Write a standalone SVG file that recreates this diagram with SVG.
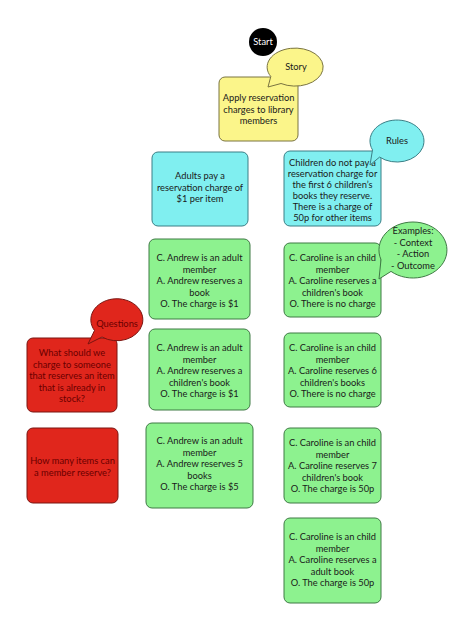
<svg xmlns="http://www.w3.org/2000/svg" width="474" height="620" viewBox="0 0 474 620">
<style>
text{font-family:Lato,"Liberation Sans",sans-serif;font-size:9.3px;text-anchor:middle;fill:#1a1a1a}
.box{stroke:#444;stroke-width:1}
.y{fill:#fbf58a;stroke:#7a7440}
.b{fill:#80eff0;stroke:#3a7f86}
.g{fill:#8df28f;stroke:#3f7a45}
.r{fill:#e0261c;stroke:#7a1410}
.rt{fill:#6a0000}
</style>
<rect width="474" height="620" fill="#fff"/>
<g id="connectors"/>
<g id="start"><circle cx="263" cy="42" r="14" fill="#000"/><text x="263" y="45" style="fill:#fff">Start</text></g>
<g id="story-box"><rect class="box y" x="219" y="77" width="79" height="64" rx="6"/>
<text x="258.5" y="101">Apply reservation</text><text x="258.5" y="112.5">charges to library</text><text x="258.5" y="124">members</text></g>
<g id="story-bubble"><path class="y" d="M281 83.5 L268 87 L270.8 76.5 A28 19 0 1 1 281 83.5 Z"/><text x="296" y="70">Story</text></g>
<g id="rule-adult"><rect class="box b" x="152" y="152" width="96" height="74" rx="6"/>
<text x="200" y="179">Adults pay a</text><text x="200" y="190.5">reservation charge of</text><text x="200" y="202">$1 per item</text></g>
<g id="rule-child"><rect class="box b" x="284" y="151" width="97" height="75" rx="6"/>
<text x="332.5" y="166">Children do not pay a</text><text x="332.5" y="177">reservation charge for</text><text x="332.5" y="188">the first 6 children’s</text><text x="332.5" y="199">books they reserve.</text><text x="332.5" y="210">There is a charge of</text><text x="332.5" y="221">50p for other items</text></g>
<g id="rules-bubble"><path class="b" d="M379.6 157.1 L370 165 L372.5 149.9 A27 21 0 1 1 379.6 157.1 Z"/><text x="397" y="144">Rules</text></g>
<g id="ex-a1"><rect class="box g" x="149" y="239" width="101" height="80" rx="6"/>
<text x="199.5" y="261">C. Andrew is an adult</text><text x="199.5" y="272.5">member</text><text x="199.5" y="284">A. Andrew reserves a</text><text x="199.5" y="295.5">book</text><text x="199.5" y="307">O. The charge is $1</text></g>
<g id="ex-c1"><rect class="box g" x="284" y="243" width="97" height="74" rx="6"/>
<text x="332.5" y="261">C. Caroline is an child</text><text x="332.5" y="272.5">member</text><text x="332.5" y="284">A. Caroline reserves a</text><text x="332.5" y="295.5">children's book</text><text x="332.5" y="307">O. There is no charge</text></g>
<g id="examples-bubble"><path class="g" d="M391 271.4 L379 279 L381 259.6 A34 28 0 1 1 391 271.4 Z"/>
<text x="413" y="234">Examples:</text><text x="413" y="245.5">- Context</text><text x="413" y="257">- Action</text><text x="413" y="268.5">- Outcome</text></g>
<g id="ex-a2"><rect class="box g" x="149" y="329" width="101" height="81" rx="6"/>
<text x="199.5" y="351">C. Andrew is an adult</text><text x="199.5" y="362.5">member</text><text x="199.5" y="374">A. Andrew reserves a</text><text x="199.5" y="385.5">children's book</text><text x="199.5" y="397">O. The charge is $1</text></g>
<g id="ex-c2"><rect class="box g" x="284" y="333" width="97" height="74" rx="6"/>
<text x="332.5" y="351">C. Caroline is an child</text><text x="332.5" y="362.5">member</text><text x="332.5" y="374">A. Caroline reserves 6</text><text x="332.5" y="385.5">children's books</text><text x="332.5" y="397">O. There is no charge</text></g>
<g id="question-1"><rect class="box r" x="27" y="338" width="90" height="74" rx="6"/>
<text class="rt" x="72" y="356">What should we</text><text class="rt" x="72" y="367.5">charge to someone</text><text class="rt" x="72" y="379">that reserves an item</text><text class="rt" x="72" y="390.5">that is already in</text><text class="rt" x="72" y="402">stock?</text></g>
<g id="questions-bubble"><path class="r" d="M102 337 L88 344 L94.5 330.5 A26 21 0 1 1 102 337 Z"/><text class="rt" x="117" y="327">Questions</text></g>
<g id="question-2"><rect class="box r" x="27" y="428" width="91" height="75" rx="6"/>
<text class="rt" x="72.5" y="464">How many items can</text><text class="rt" x="72.5" y="475.5">a member reserve?</text></g>
<g id="ex-a3"><rect class="box g" x="146" y="423" width="107" height="85" rx="6"/>
<text x="199.5" y="444">C. Andrew is an adult</text><text x="199.5" y="455.5">member</text><text x="199.5" y="467">A. Andrew reserves 5</text><text x="199.5" y="478.5">books</text><text x="199.5" y="490">O. The charge is $5</text></g>
<g id="ex-c3"><rect class="box g" x="284" y="428" width="97" height="75" rx="6"/>
<text x="332.5" y="446">C. Caroline is an child</text><text x="332.5" y="457.5">member</text><text x="332.5" y="469">A. Caroline reserves 7</text><text x="332.5" y="480.5">children's book</text><text x="332.5" y="492">O. The charge is 50p</text></g>
<g id="ex-c4"><rect class="box g" x="284" y="518" width="97" height="85" rx="6"/>
<text x="332.5" y="540">C. Caroline is an child</text><text x="332.5" y="551.5">member</text><text x="332.5" y="563">A. Caroline reserves a</text><text x="332.5" y="574.5">adult book</text><text x="332.5" y="586">O. The charge is 50p</text></g>
</svg>
